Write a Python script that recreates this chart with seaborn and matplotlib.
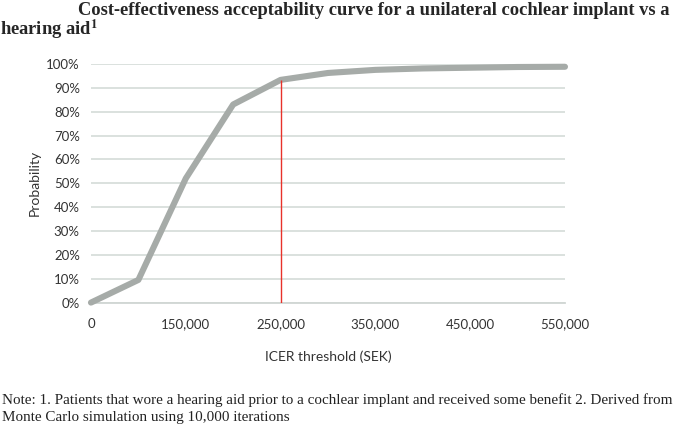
import pandas as pd
import matplotlib.pyplot as plt
import seaborn as sns

# ICER thresholds (SEK) used as categories, and probability cost-effective
thresholds = [0, 100000, 150000, 200000, 250000, 300000, 350000,
              400000, 450000, 500000, 550000]
probability = [0.0, 0.095, 0.52, 0.83, 0.933, 0.962, 0.975,
               0.981, 0.984, 0.987, 0.988]
shown_labels = ['0', '', '150,000', '', '250,000', '', '350,000',
                '', '450,000', '', '550,000']
threshold_marker = 250000

df = pd.DataFrame({'threshold': thresholds, 'probability': probability})
df['pos'] = range(len(df))

sns.set_style('white')
plt.rcParams['font.family'] = ['Lato', 'DejaVu Sans']
plt.rcParams['mathtext.fontset'] = 'stix'

fig = plt.figure(figsize=(6.85, 4.26), dpi=100)
ax = fig.add_axes([0.1328, 0.2897, 0.692, 0.5603])

sns.lineplot(data=df, x='pos', y='probability', ax=ax, color='#a6aba8',
             linewidth=4.4, solid_capstyle='round', clip_on=False, zorder=3)

# red vertical line at 250,000
mpos = thresholds.index(threshold_marker)
ax.vlines(mpos, 0, probability[mpos], color='#e8322a', linewidth=1.0, zorder=4)

ax.set_xlim(0, len(thresholds) - 1)
ax.set_ylim(0, 1)
ax.set_yticks([i / 10 for i in range(11)])
ax.set_yticklabels([f'{i * 10}%' for i in range(11)])
ax.set_xticks(df['pos'])
ax.set_xticklabels(shown_labels)

ax.yaxis.grid(True, color='#d8dedb', linewidth=1.3)
ax.set_axisbelow(True)
for s in ['top', 'right', 'left']:
    ax.spines[s].set_visible(False)
ax.spines['bottom'].set_color('#d0d6d3')
ax.spines['bottom'].set_linewidth(1.3)
ax.tick_params(axis='y', length=0, labelsize=9.5, labelcolor='#333333', pad=8)
ax.tick_params(axis='x', length=4, width=1.2, color='#d0d6d3', direction='out',
               labelsize=9.5, labelcolor='#333333', pad=7)

ax.set_xlabel('ICER threshold (SEK)', fontsize=10, color='#333333', labelpad=15)
ax.set_ylabel('Probability', fontsize=10, color='#333333', labelpad=4)

fig.text(0.114, 1 - 15 / 426, 'Cost-effectiveness acceptability curve for a unilateral cochlear implant vs a',
         family='Liberation Serif', fontweight='bold', fontsize=13.3, va='baseline')
fig.text(0.0, 1 - 35 / 426, 'hearing aid$^{\\mathbf{1}}$', family='Liberation Serif',
         fontweight='bold', fontsize=13.3, va='baseline')

fig.text(0.003, 1 - 404 / 426, 'Note: 1. Patients that wore a hearing aid prior to a cochlear implant and '
         'received some benefit 2. Derived from', family='Liberation Serif', fontsize=10.9,
         color='#222222', va='baseline')
fig.text(0.003, 1 - 421 / 426, 'Monte Carlo simulation using 10,000 iterations',
         family='Liberation Serif', fontsize=10.9, color='#222222', va='baseline')

fig.savefig('out.png', dpi=100)
